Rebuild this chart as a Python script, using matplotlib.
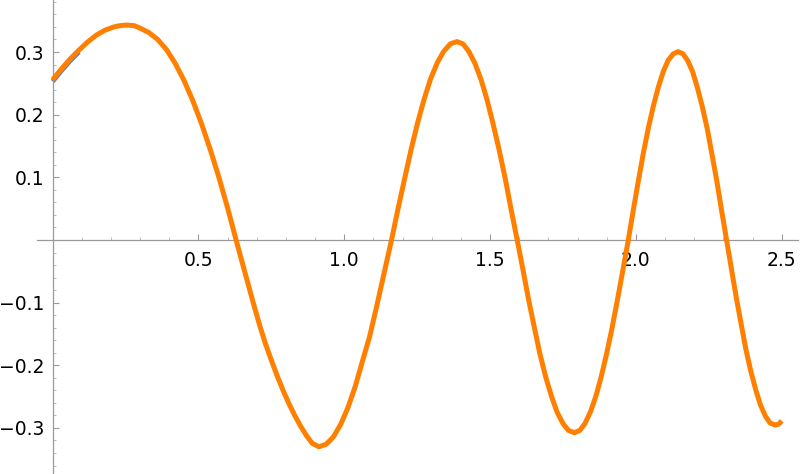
import matplotlib
matplotlib.use("Agg")
import matplotlib.pyplot as plt
from matplotlib.ticker import FixedLocator, MultipleLocator

# Orange curve
t_orange = [0.00, 0.03, 0.06, 0.09, 0.12, 0.15, 0.18, 0.21, 0.23, 0.253, 0.28,
            0.30, 0.33, 0.36, 0.39, 0.42, 0.45, 0.48, 0.51, 0.54, 0.57, 0.60, 0.629,
            0.65, 0.67, 0.69, 0.711, 0.73, 0.75, 0.77, 0.79, 0.81, 0.83, 0.85, 0.87, 0.89, 0.913,
            0.938, 0.963, 0.988, 1.013, 1.038, 1.062, 1.087, 1.112, 1.137, 1.162,
            1.184, 1.207, 1.229, 1.252, 1.274, 1.296, 1.319, 1.341, 1.364, 1.386,
            1.407, 1.427, 1.448, 1.469, 1.4895, 1.510, 1.531, 1.552, 1.572, 1.593,
            1.613, 1.632, 1.652, 1.671, 1.691, 1.711, 1.730, 1.750, 1.769, 1.789,
            1.8075, 1.826, 1.8445, 1.863, 1.8815, 1.900, 1.9185, 1.937, 1.9555, 1.974,
            1.991, 2.008, 2.025, 2.042, 2.0595, 2.077, 2.094, 2.111, 2.128, 2.145,
            2.1616, 2.178, 2.195, 2.211, 2.228, 2.245, 2.261, 2.278, 2.294, 2.311,
            2.3276, 2.344, 2.361, 2.377, 2.394, 2.411, 2.427, 2.444, 2.460, 2.477,
            2.49, 2.50]
v_orange = [0.256, 0.273, 0.289, 0.303, 0.316, 0.327, 0.335, 0.340, 0.342, 0.343, 0.342,
            0.338, 0.331, 0.320, 0.304, 0.282, 0.255, 0.223, 0.186, 0.145, 0.100, 0.051, 0.0,
            -0.036, -0.070, -0.104, -0.138, -0.166, -0.192, -0.217, -0.240, -0.261, -0.280,
            -0.297, -0.312, -0.3245, -0.330,
            -0.326, -0.314, -0.294, -0.267, -0.233, -0.194, -0.154, -0.104, -0.052, 0.0,
            0.049, 0.098, 0.144, 0.188, 0.225, 0.257, 0.283, 0.301, 0.313, 0.3166,
            0.313, 0.301, 0.282, 0.256, 0.224, 0.186, 0.144, 0.098, 0.049, 0.0,
            -0.048, -0.095, -0.140, -0.182, -0.219, -0.250, -0.275, -0.293, -0.304, -0.3076,
            -0.304, -0.2925, -0.274, -0.249, -0.2175, -0.181, -0.140, -0.095, -0.048, 0.0,
            0.047, 0.093, 0.137, 0.177, 0.213, 0.244, 0.269, 0.287, 0.297, 0.3006,
            0.297, 0.286, 0.268, 0.243, 0.2125, 0.177, 0.1365, 0.093, 0.047, 0.0,
            -0.046, -0.091, -0.134, -0.174, -0.209, -0.239, -0.263, -0.281, -0.292, -0.2953,
            -0.294, -0.2885]

# Blue curve, visible only at the very start beneath the orange one
t_blue = [0.00, 0.03, 0.06, 0.09]
v_blue = [0.253, 0.270, 0.286, 0.300]

x_ticks = [0.5, 1.0, 1.5, 2.0, 2.5]
x_tick_labels = ["0.5", "1.0", "1.5", "2.0", "2.5"]
y_ticks = [-0.3, -0.2, -0.1, 0.1, 0.2, 0.3]
y_tick_labels = ["\u22120.3", "\u22120.2", "\u22120.1", "0.1", "0.2", "0.3"]

plt.rcParams['font.family'] = ['DejaVu Sans']

fig = plt.figure(figsize=(8.0, 4.74), dpi=100)
ax = fig.add_axes([37 / 800, 0.0, (798 - 37) / 800, 1.0])
ax.set_xlim(-0.0538, 2.556)
ax.set_ylim(-0.3735, 0.383)

ax.plot(t_blue, v_blue, color="#5E81B5", lw=3.4, solid_capstyle="butt", zorder=2)
ax.plot(t_orange, v_orange, color="#FF8000", lw=3.6, solid_capstyle="butt",
        solid_joinstyle="round", zorder=3)

for s in ["top", "right"]:
    ax.spines[s].set_visible(False)
ax.spines["left"].set_position(("data", 0))
ax.spines["bottom"].set_position(("data", 0))
for s in ["left", "bottom"]:
    ax.spines[s].set_color("#9a9a9a")
    ax.spines[s].set_linewidth(0.9)

ax.xaxis.set_major_locator(FixedLocator(x_ticks))
ax.set_xticklabels(x_tick_labels)
ax.xaxis.set_minor_locator(MultipleLocator(0.1))
ax.yaxis.set_major_locator(FixedLocator(y_ticks))
ax.set_yticklabels(y_tick_labels)
ax.yaxis.set_minor_locator(MultipleLocator(0.02))

ax.tick_params(axis="both", which="major", direction="in", length=4.2, width=0.8,
               color="#9a9a9a", labelsize=13.5, labelcolor="black")
ax.tick_params(axis="both", which="minor", direction="in", length=2.4, width=0.6,
               color="#b0b0b0")
ax.tick_params(axis="x", which="major", pad=8)
ax.tick_params(axis="y", which="major", pad=6)
ax.patch.set_alpha(0)

fig.savefig("out.png", dpi=100, facecolor="white")
